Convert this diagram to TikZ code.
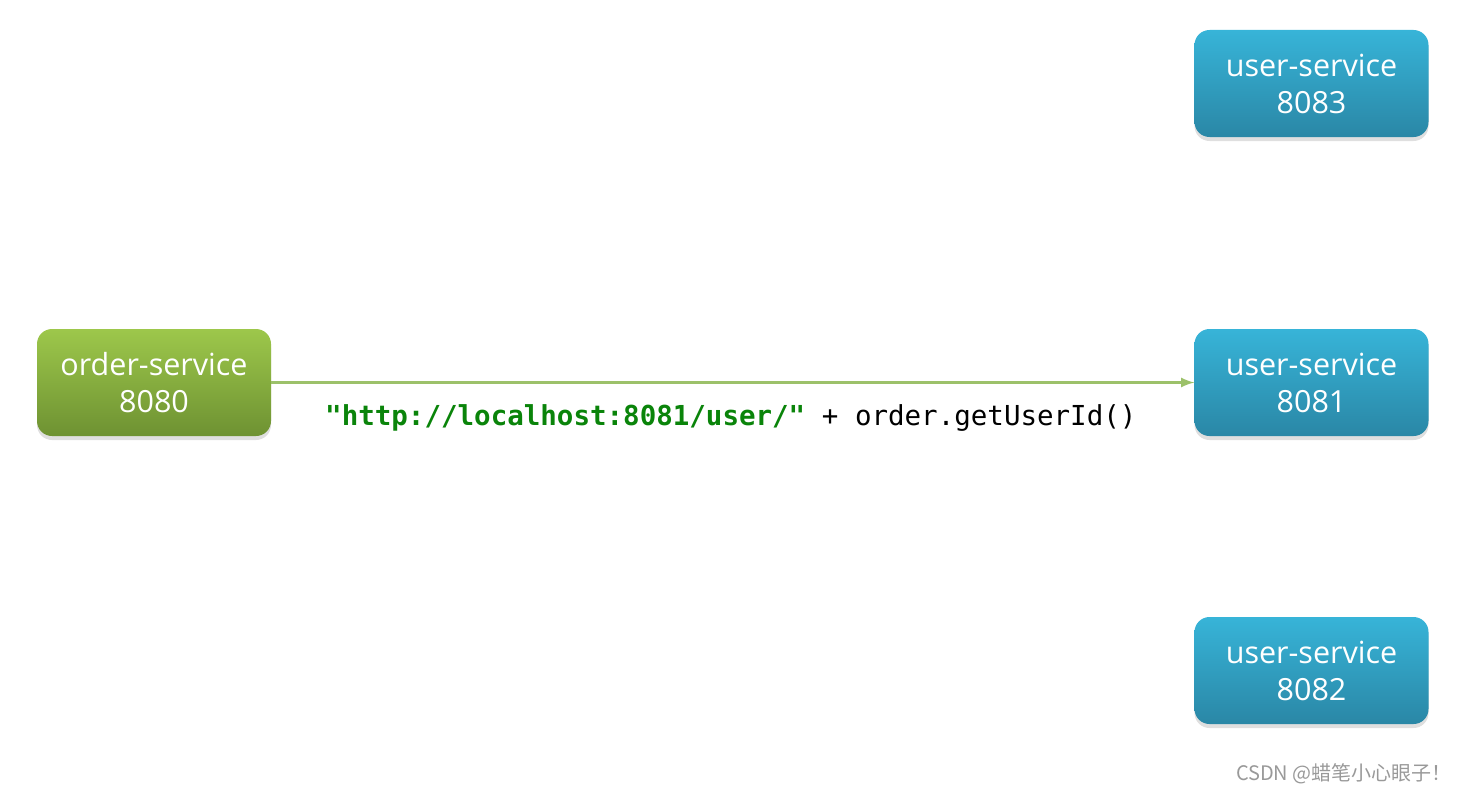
\documentclass[tikz,border=0pt]{standalone}
\usepackage{fontspec}
\setmainfont{Open Sans}
\newfontfamily\codefont{DejaVu Sans Mono}
\newfontfamily\cjk{Noto Sans CJK SC}
\usetikzlibrary{shadows}

\definecolor{greentop}{HTML}{9DC74B}
\definecolor{greenbot}{HTML}{6E9232}
\definecolor{bluetop}{HTML}{37B4D8}
\definecolor{bluebot}{HTML}{2A87A6}
\definecolor{arrowgreen}{HTML}{9CC16A}
\definecolor{codegreen}{HTML}{0A840A}

\begin{document}
\begin{tikzpicture}[x=1pt, y=-1pt,
  svcbox/.style={anchor=center, align=center, text=white, rounded corners=15pt,
    minimum width=234pt, minimum height=107pt, inner sep=0pt,
    font=\fontsize{30.5}{37}\selectfont,
    drop shadow={shadow xshift=0pt, shadow yshift=-4pt, opacity=0.25}},
  orderbox/.style={svcbox, top color=greentop, bottom color=greenbot},
  userbox/.style={svcbox, top color=bluetop, bottom color=bluebot}]
  \useasboundingbox (0,0) rectangle (1463,792);

  \node[orderbox] (order) at (154,382.5) {order-service\\8080};
  \node[userbox] (user3) at (1311.5,83.5) {user-service\\8083};
  \node[userbox] (user1) at (1311.5,382.5) {user-service\\8081};
  \node[userbox] (user2) at (1311.5,670.5) {user-service\\8082};

  \path[draw, -latex, line width=3.5pt, arrowgreen] (order) -- (user1);
  \node[anchor=base west, inner sep=0pt, font=\codefont\fontsize{27.5}{34}\selectfont]
    (url) at (325,425) {\textcolor{codegreen}{\bfseries "http://localhost:8081/user/"} + order.getUserId()};

  \node[anchor=base east, inner sep=0pt, text=black!40, font=\cjk\fontsize{20}{22}\selectfont]
    (mark) at (1452,780) {CSDN @蜡笔小心眼子！};
\end{tikzpicture}
\end{document}
